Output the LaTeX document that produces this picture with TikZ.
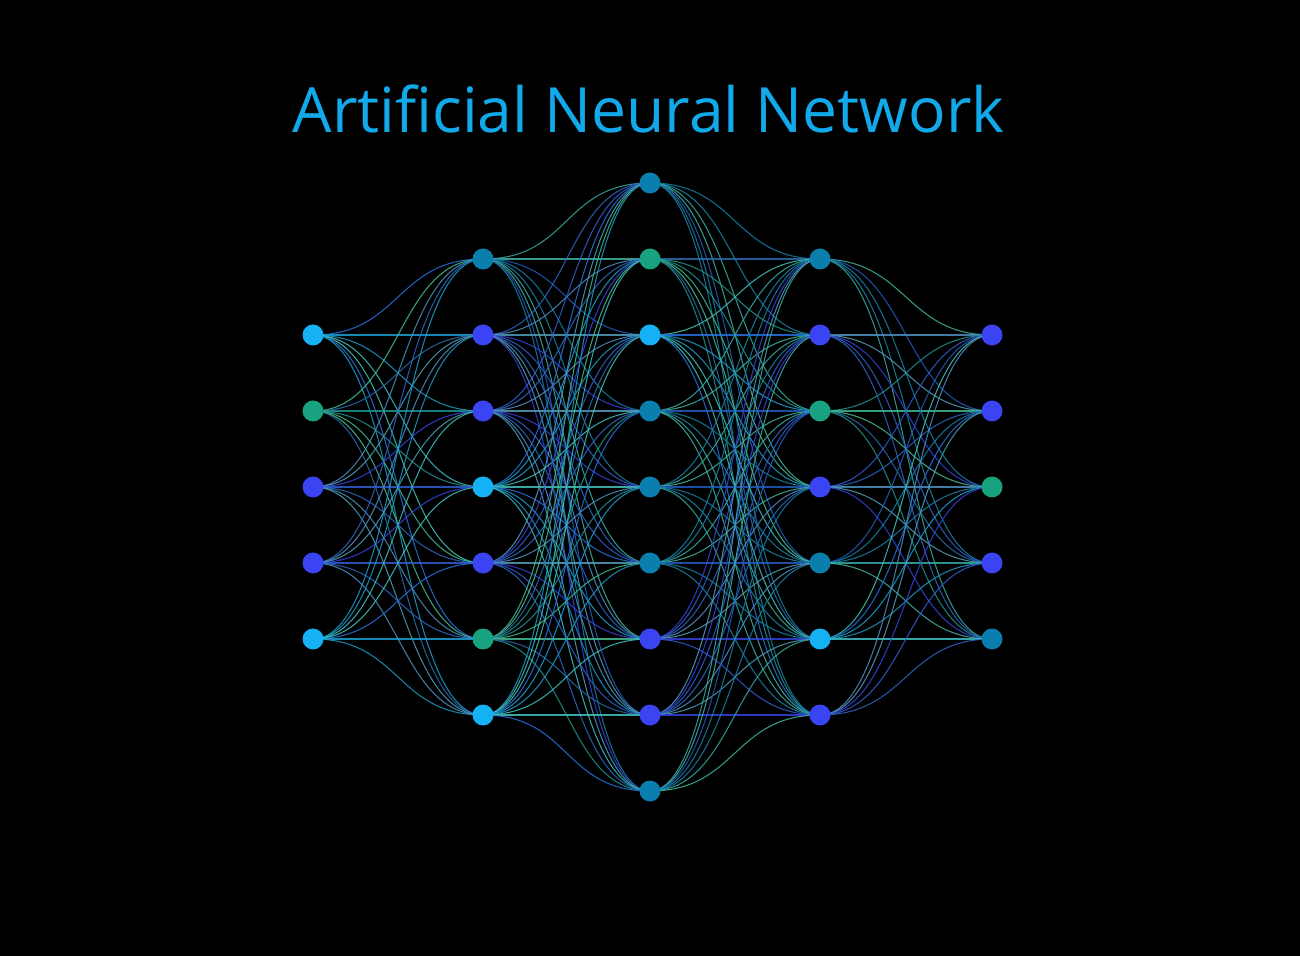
\documentclass[tikz,border=0pt]{standalone}
\usepackage{fontspec}
\setmainfont{Open Sans}
\usetikzlibrary{positioning,backgrounds}

\definecolor{nlight}{HTML}{14B2F5}
\definecolor{ngreen}{HTML}{19A27F}
\definecolor{nblue}{HTML}{3A44F2}
\definecolor{nteal}{HTML}{0A7FAE}
\definecolor{titleblue}{HTML}{12A9EA}
\definecolor{eteal}{HTML}{2386A2}
\definecolor{eblue}{HTML}{3540D0}
\definecolor{egreen}{HTML}{5CCF9C}

\begin{document}
\begin{tikzpicture}[main node/.style={circle, draw=none, inner sep=0pt, outer sep=0pt, minimum size=0.42cm},
        node distance=1.1cm and 2.98cm,
        edge/.style={line width=0.6pt, opacity=0.85},
        edge0/.style={edge, draw=#1!45!eteal},
        edge1/.style={edge, draw=#1!45!eblue},
        edge2/.style={edge, draw=#1!45!egreen},
        edge3/.style={edge, draw=#1!60!eteal},
        edge4/.style={edge, draw=#1!35!egreen}
        ]
        \useasboundingbox (0,0) rectangle (26,-19.12);

        % middle layer
        \node [main node, fill=nteal] (c5) at (13,-9.74) {};
        \node [main node, fill=nteal] (c4) [above = of c5] {};
        \node [main node, fill=nlight] (c3) [above = of c4] {};
        \node [main node, fill=ngreen] (c2) [above = of c3] {};
        \node [main node, fill=nteal] (c1) [above = of c2] {};
        \node [main node, fill=nteal] (c6) [below = of c5] {};
        \node [main node, fill=nblue] (c7) [below = of c6] {};
        \node [main node, fill=nblue] (c8) [below = of c7] {};
        \node [main node, fill=nteal] (c9) [below = of c8] {};

        % second layer
        \node [main node, fill=nteal] (b1) [left = 2.92cm of c2] {};
        \node [main node, fill=nblue] (b2) [below = of b1] {};
        \node [main node, fill=nblue] (b3) [below = of b2] {};
        \node [main node, fill=nlight] (b4) [below = of b3] {};
        \node [main node, fill=nblue] (b5) [below = of b4] {};
        \node [main node, fill=ngreen] (b6) [below = of b5] {};
        \node [main node, fill=nlight] (b7) [below = of b6] {};

        % input layer
        \node [main node, fill=nlight] (a1) [left = of b2] {};
        \node [main node, fill=ngreen] (a2) [below = of a1] {};
        \node [main node, fill=nblue] (a3) [below = of a2] {};
        \node [main node, fill=nblue] (a4) [below = of a3] {};
        \node [main node, fill=nlight] (a5) [below = of a4] {};

        % fourth layer
        \node [main node, fill=nteal] (d1) [right = of c2] {};
        \node [main node, fill=nblue] (d2) [below = of d1] {};
        \node [main node, fill=ngreen] (d3) [below = of d2] {};
        \node [main node, fill=nblue] (d4) [below = of d3] {};
        \node [main node, fill=nteal] (d5) [below = of d4] {};
        \node [main node, fill=nlight] (d6) [below = of d5] {};
        \node [main node, fill=nblue] (d7) [below = of d6] {};

        % output layer
        \node [main node, fill=nblue] (e1) [right = 3.02cm of d2] {};
        \node [main node, fill=nblue] (e2) [below = of e1] {};
        \node [main node, fill=ngreen] (e3) [below = of e2] {};
        \node [main node, fill=nblue] (e4) [below = of e3] {};
        \node [main node, fill=nteal] (e5) [below = of e4] {};

        \node [text=titleblue, anchor=base, font=\fontsize{35.5}{38}\selectfont] (title) at (12.97,-2.66) {Artificial Neural Network};

        \begin{scope}[on background layer]
        \fill[black] (0,0) rectangle (26,-19.12);
        % every edge takes the colour of the node it leaves
        \foreach \p/\q/\n/\k/\cols in {a/b/7/1/{nlight,ngreen,nblue,nblue,nlight},
                                    b/c/9/2/{nteal,nblue,nblue,nlight,nblue,ngreen,nlight},
                                    c/d/7/3/{nteal,ngreen,nlight,nteal,nteal,nteal,nblue,nblue,nteal},
                                    d/e/5/4/{nteal,nblue,ngreen,nblue,nteal,nlight,nblue}}
          \foreach \c [count=\i] in \cols
            \foreach \j in {1,...,\n}{
              \pgfmathtruncatemacro\col{mod(3*\i+2*\j+\k,5)}
              \draw[edge\col=\c] (\p\i.center) to[out=0,in=180,distance=1.75cm] (\q\j.center);
            }
        \end{scope}
\end{tikzpicture}
\end{document}
